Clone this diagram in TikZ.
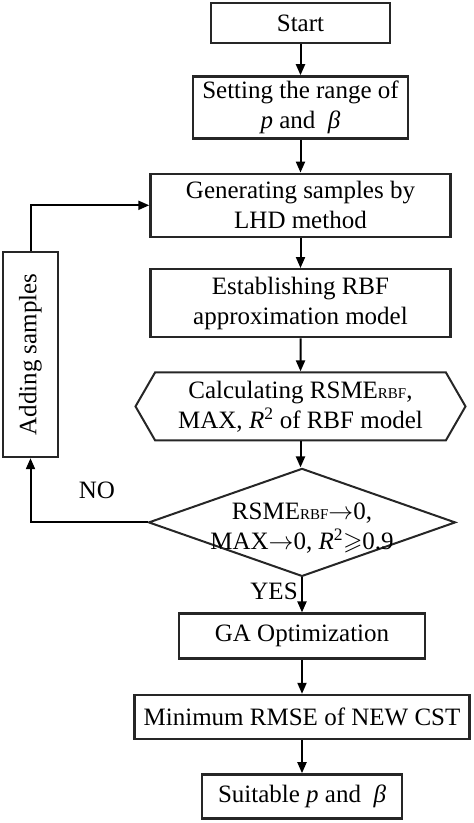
\documentclass[tikz,border=0pt]{standalone}
\usepackage{fontspec}
\setmainfont{Liberation Serif}
\usepackage{amsmath,amssymb}
\usetikzlibrary{positioning,arrows.meta,shapes.geometric,shapes.symbols}
\newcommand{\rbf}{{\fontsize{15}{15}\selectfont RBF}}

\begin{document}
\begin{tikzpicture}[x=1pt,y=-1pt,font=\fontsize{25}{30}\selectfont,>={Triangle[length=11pt,width=9pt]},
  node distance=33pt,
  stp/.style={draw=black!85,line width=2.4pt,align=center,inner sep=1pt},
  chk/.style={draw=black!85,line width=2pt,align=center,inner sep=0pt},
  flw/.style={->,line width=2pt}]
  \useasboundingbox (0,0) rectangle (474,823);
  \node[stp,minimum width=179pt,minimum height=40pt] (start) at (300.5,23) {Start};
  \node[stp,minimum width=215pt,minimum height=62pt,below=31pt of start] (rng) {Setting the range of\\\textit{p} and \ \textit{β}};
  \node[stp,minimum width=300pt,minimum height=63pt,below=33pt of rng] (lhd) {Generating samples by\\LHD method};
  \node[stp,minimum width=300pt,minimum height=68pt,below=30pt of lhd] (mdl) {Establishing RBF\\approximation model};
  \node[chk,shape=signal,signal to=west and east,signal pointer angle=120,
    minimum width=330pt,minimum height=68pt,below=33pt of mdl] (calc)
    {Calculating RSME\rbf,\\MAX, \textit{R}\textsuperscript{2} of RBF model};
  \node[chk,diamond,aspect=2.84,minimum width=307pt,minimum height=108pt,below=26pt of calc,xshift=1.5pt,
    label={[align=center,yshift=-6pt]center:RSME\rbf$\rightarrow$0,\\MAX$\rightarrow$0, \textit{R}\textsuperscript{2}$\geqslant$0.9}] (dec) {};
  \node[stp,minimum width=246pt,minimum height=45pt,below=35pt of dec] (ga) {GA Optimization};
  \node[stp,minimum width=335pt,minimum height=44pt,below=34pt of ga] (rmse) {Minimum RMSE of NEW CST};
  \node[stp,minimum width=200pt,minimum height=44pt,below=33pt of rmse] (fin) {Suitable \textit{p} and \ \textit{β}};
  \node[stp,minimum width=205pt,minimum height=55pt,rotate=90] (add) at (30.5,354.5) {Adding samples};
  \draw[flw] (start)--(rng); \draw[flw] (rng)--(lhd); \draw[flw] (lhd)--(mdl);
  \draw[flw] (mdl)--(calc); \draw[flw] (calc.south)--(calc.south|-dec.north);
  \draw[flw] (dec.south)--node[left,yshift=4pt]{YES}(dec.south|-ga.north);
  \draw[flw] (ga)--(rmse); \draw[flw] (rmse)--(fin);
  \draw[flw] (dec.west)-|node[pos=0.75,right=44pt]{NO}(add.west);
  \draw[flw] (add.east)|-(lhd.west);
\end{tikzpicture}
\end{document}
